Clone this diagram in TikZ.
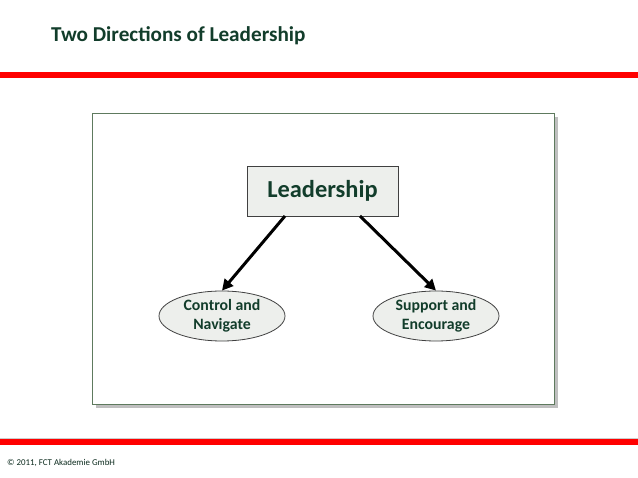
\documentclass[tikz,border=0pt]{standalone}
\usepackage{fontspec}
\setmainfont{Carlito}
\usetikzlibrary{shapes.geometric,arrows.meta}
\definecolor{dgreen}{HTML}{123D2B}
\definecolor{framec}{HTML}{5E7A5E}
\definecolor{boxfill}{HTML}{EDEFEC}
\definecolor{redline}{HTML}{FF0000}
\tikzset{
  ttl/.style={font=\bfseries\fontsize{21.2}{25}\selectfont, text=dgreen, anchor=base west, inner sep=0},
  leadbox/.style={draw=black!75, fill=boxfill, line width=0.8pt, minimum width=151pt, minimum height=50pt, inner sep=0, font=\bfseries\fontsize{24.4}{28}\selectfont, text=dgreen},
  oval/.style={ellipse, draw=black!75, fill=boxfill, line width=0.8pt, minimum width=126pt, minimum height=50pt, inner sep=0, align=center, font=\bfseries\fontsize{15.8}{19.5}\selectfont, text=dgreen},
  arr/.style={line width=3pt, -{Triangle[length=11pt,width=11pt]}},
}
\begin{document}
\begin{tikzpicture}[x=1pt,y=-1pt]
\useasboundingbox (0,0) rectangle (638,478);
\fill[white] (0,0) rectangle (638,478);
\node[ttl] (title) at (51,41.7) {Two Directions of Leadership};
\fill[redline] (0,72) rectangle (638,78);
% frame with shadow
\fill[black!25] (96,117) rectangle (558,408);
\draw[framec, fill=white, line width=0.8pt] (92,113) rectangle (554,404);
\node[leadbox] (lead) at (322.5,191) {Leadership};
\node[oval] (cn) at (222,316) {Control and\\Navigate};
\node[oval] (se) at (436,316) {Support and\\Encourage};
\coordinate (la) at (285,216);
\coordinate (ra) at (360,216);
\draw[arr] (la) -- (cn.north);
\draw[arr] (ra) -- (se.north);
\draw[black!20, line width=0.5pt] (0,438.5) -- (638,438.5);
\fill[redline] (0,439) rectangle (638,445);
\node[font=\fontsize{8.9}{10.5}\selectfont, text=dgreen!70!black, anchor=base west, inner sep=0] (foot) at (7,466) {© 2011, FCT Akademie GmbH};
\end{tikzpicture}
\end{document}
